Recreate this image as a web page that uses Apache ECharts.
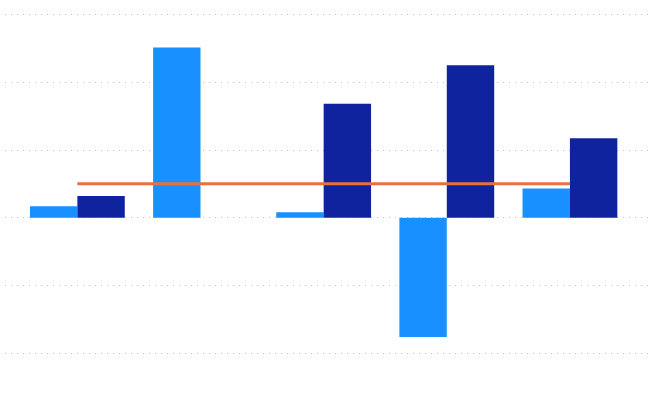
<!DOCTYPE html>
<html>
<head>
<meta charset="utf-8">
<script src="https://cdn.jsdelivr.net/npm/echarts@6/dist/echarts.min.js"></script>
<style>
  html, body { margin: 0; padding: 0; background: #fff; }
  #chart { width: 651px; height: 418px; }
</style>
</head>
<body>
<div id="chart"></div>
<script>
// 数据
var categories = ['A', 'B', 'C', 'D', 'E'];
var seriesA = [1.7, 25.1, 0.8, -17.6, 4.3];
var seriesB = [3.2, null, 16.8, 22.5, 11.7];
var lineValues = [5, 5, 5, 5, 5];
var yTicks = [-20, -10, 0, 10, 20, 30];

var myChart = echarts.init(document.getElementById('chart'));

var yMin = yTicks[0], yMax = yTicks[yTicks.length - 1];

myChart.setOption({
    animation: false,
    color: ['#1890FF', '#10239E', '#E8703E'],
    grid: [
        // 背景网格线
        { left: 5, right: 3, top: 14.3, bottom: 64.7 },
        // 柱子
        { left: 15.8, right: 19.5, top: 14.3, bottom: 64.7 }
    ],
    xAxis: [
        { gridIndex: 0, type: 'category', data: categories, show: false },
        { gridIndex: 1, type: 'category', data: categories, show: false }
    ],
    yAxis: [
        {
            gridIndex: 0,
            type: 'value',
            min: yMin,
            max: yMax,
            interval: 10,
            axisLabel: { show: false },
            axisTick: { show: false },
            axisLine: { show: false },
            splitLine: {
                lineStyle: { color: '#c4c4c4', type: [1, 5], width: 1 }
            }
        },
        {
            gridIndex: 1,
            type: 'value',
            min: yMin,
            max: yMax,
            interval: 10,
            show: false,
            splitLine: { show: false }
        }
    ],
    series: [
        {
            type: 'bar',
            xAxisIndex: 1,
            yAxisIndex: 1,
            data: seriesA,
            barGap: '0%',
            barCategoryGap: '23%'
        },
        {
            type: 'bar',
            xAxisIndex: 1,
            yAxisIndex: 1,
            data: seriesB,
            barGap: '0%',
            barCategoryGap: '23%'
        },
        {
            type: 'line',
            xAxisIndex: 1,
            yAxisIndex: 1,
            data: lineValues,
            symbol: 'none',
            lineStyle: { width: 3, color: '#E8703E' },
            z: 5
        }
    ]
});
</script>
</body>
</html>
